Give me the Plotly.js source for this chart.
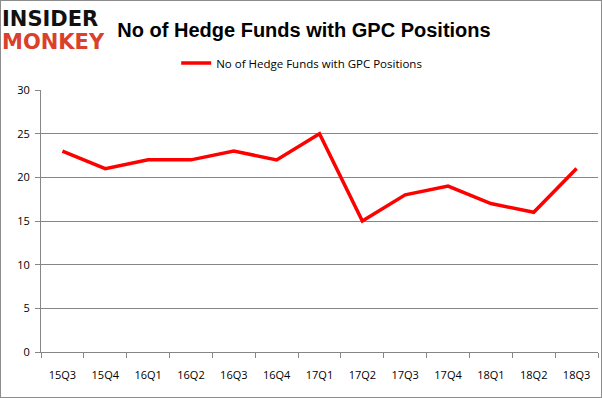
<!DOCTYPE html>
<html><head><meta charset="utf-8">
<script src="https://cdn.plot.ly/plotly-3.0.1.min.js"></script>
<style>html,body{margin:0;padding:0;background:#fff}#chart{width:600px;height:396px;border:1px solid #8c8c8c}</style>
</head><body><div id="chart"></div>
<script>
const quarters = ["15Q3","15Q4","16Q1","16Q2","16Q3","16Q4","17Q1","17Q2","17Q3","17Q4","18Q1","18Q2","18Q3"];
const hedgeFunds = [23,21,22,22,23,22,25,15,18,19,17,16,21];
const seriesName = "No of Hedge Funds with GPC Positions";
const yTicks = [0,5,10,15,20,25,30];

const trace = {
  x: quarters, y: hedgeFunds, type: 'scatter', mode: 'lines', name: seriesName,
  line: {color: '#ff0000', width: 3.5}
};
const layout = {
  width: 600, height: 396,
  margin: {l: 40, r: 3, t: 89, b: 45},
  paper_bgcolor: '#fff', plot_bgcolor: '#fff',
  font: {family: 'Open Sans, sans-serif', size: 11, color: '#000'},
  title: {text: '<b>No of Hedge Funds with GPC Positions</b>', x: 0.505, xanchor: 'center', y: 0.928, yanchor: 'middle',
          font: {family: 'Liberation Sans, sans-serif', size: 20, color: '#000'}},
  showlegend: true,
  legend: {orientation: 'h', x: 0.468, xanchor: 'center', y: 1.103, yanchor: 'middle', font: {size: 11.5}},
  xaxis: {type: 'category', tickson: 'boundaries', ticks: 'outside', ticklen: 5, tickcolor: '#868686',
          showline: true, linecolor: '#868686', showgrid: false, range: [-0.5, 12.5], fixedrange: true,
          ticklabelstandoff: 13, tickfont: {size: 11}},
  yaxis: {range: [0, 30], tickvals: yTicks, ticks: 'outside', ticklen: 5, tickcolor: '#868686',
          showline: true, linecolor: '#868686', showgrid: true, gridcolor: '#868686', zeroline: false,
          ticklabelstandoff: 3, tickfont: {size: 11}},
  annotations: [
    {text: '<b>INSIDER</b>', xref: 'paper', yref: 'paper', x: -0.074, y: 1.272, xanchor: 'left', yanchor: 'middle',
     showarrow: false, font: {family: 'DejaVu Sans, sans-serif', size: 21, color: '#111'}},
    {text: '<b>MONKEY</b>', xref: 'paper', yref: 'paper', x: -0.074, y: 1.185, xanchor: 'left', yanchor: 'middle',
     showarrow: false, font: {family: 'DejaVu Sans, sans-serif', size: 21, color: '#d9412b'}}
  ]
};
Plotly.newPlot('chart', [trace], layout, {displayModeBar: false, staticPlot: true});
</script></body></html>
